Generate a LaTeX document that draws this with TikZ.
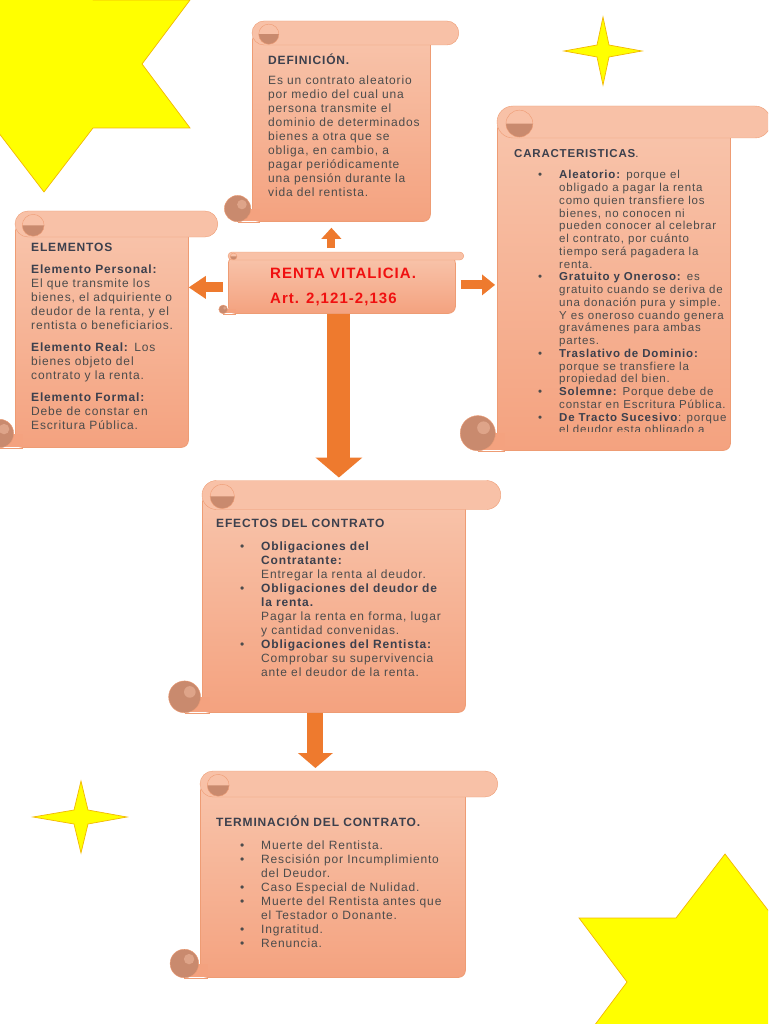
\documentclass[tikz,border=0pt]{standalone}
\usepackage{fontspec}
\setmainfont{Liberation Sans}[LetterSpace=7]
\newfontfamily\redfont{Liberation Sans}[LetterSpace=7]
\usetikzlibrary{arrows.meta,calc,positioning}

\definecolor{bodytop}{HTML}{F8C4AB}
\definecolor{bodybot}{HTML}{F4A27F}
\definecolor{rollc}{HTML}{F8C1A7}
\definecolor{edge}{HTML}{EE9C74}
\definecolor{curlc}{HTML}{C98A6E}
\definecolor{arrowc}{HTML}{EE7A2E}
\definecolor{starfill}{HTML}{FFFF00}
\definecolor{staredge}{HTML}{F2B705}
\definecolor{ink}{HTML}{4C4C4C}
\definecolor{head}{HTML}{3C404D}
\definecolor{redtxt}{HTML}{F01010}

% roll on top, curls at the corners
\newcommand{\scrollbits}[3]{%
  \path (#1.north west) coordinate (nw) (#1.north east) coordinate (ne)
        (#1.south west) coordinate (sw);
  \fill[bodybot] ($(sw)+(-0.6*#2,-0.55*#2)$) rectangle ($(sw)+(8,-0.4)$);
  \draw[edge] ($(sw)+(-0.6*#2,0)$) -- ($(sw)+(8,0)$);
  \filldraw[curlc, draw=edge] ($(sw)+(-0.6*#2,-0.55*#2)$) circle[radius={0.55*#2*1pt}];
  \fill[bodytop!45!curlc] ($(sw)+(-0.42*#2,-0.72*#2)$) circle[radius={0.2*#2*1pt}];
  \filldraw[rollc, draw=edge, rounded corners={0.5*#2*1pt}]
    ($(nw)+(0,-0.5*#2)$) rectangle ($(ne)+(#3,0.5*#2)$);
  \fill[curlc] ($(nw)+(0.7*#2,0.05*#2)$) ++(-0.42*#2,0)
    arc[start angle=180, end angle=360, radius={0.42*#2*1pt}] -- cycle;
  \draw[edge] ($(nw)+(0.7*#2,0.05*#2)$) circle[radius={0.42*#2*1pt}];
}
\newcommand{\tp}{\rule{0pt}{12pt}}
\newcommand{\itm}{\hspace*{24pt}\makebox[21pt][l]{\textbullet}}
\newcommand{\cnt}{\hspace*{45pt}}

\begin{document}
\begin{tikzpicture}[x=1pt, y=-1pt,
  box/.style = {rectangle, rounded corners=7pt, draw=edge, line width=0.8pt,
    top color=bodytop, bottom color=bodybot, inner sep=0pt, anchor=north west},
  txt/.style = {anchor=north west, inner sep=0pt, align=left, text=ink,
    font=\fontsize{12}{14}\selectfont},
  star/.style = {fill=starfill, draw=staredge, line width=0.7pt, line join=miter},
  blk/.style = {draw=arrowc, line cap=butt}
]
\useasboundingbox (0,0) rectangle (768,1024);
\clip (0,0) rectangle (768,1024);

% stars
\draw[star, shift={(44,64)}] (0,-128) -- (49,-64) -- (146,-64) -- (98,0) -- (146,64)
  -- (49,64) -- (0,128) -- (-49,64) -- (-146,64) -- (-98,0) -- (-146,-64) -- (-49,-64) -- cycle;
\draw[star, shift={(725,982)}] (0,-128) -- (49,-64) -- (146,-64) -- (98,0) -- (146,64)
  -- (49,64) -- (0,128) -- (-49,64) -- (-146,64) -- (-98,0) -- (-146,-64) -- (-49,-64) -- cycle;
\draw[star, shift={(603,51)}] (0,-34) -- (6,-6) -- (39,0) -- (6,6) -- (0,34) -- (-6,6)
  -- (-39,0) -- (-6,-6) -- cycle;
\draw[star, shift={(81,817)}] (0,-36) -- (7,-7) -- (46,0) -- (7,7) -- (0,36) -- (-7,7)
  -- (-48,0) -- (-7,-7) -- cycle;

% scrolls
\node[box, minimum width=178pt, minimum height=188pt] (def)  at (252,33)  {};
\scrollbits{def}{24}{28}
\node[box, minimum width=233pt, minimum height=328pt] (car)  at (497,122) {};
\scrollbits{car}{32}{40}
\node[box, minimum width=173pt, minimum height=223pt] (elem) at (15,224)  {};
\scrollbits{elem}{26}{29}
\node[box, minimum width=227pt, minimum height=57pt]  (cen)  at (228,256) {};
\scrollbits{cen}{8}{8}
\node[box, minimum width=263pt, minimum height=217pt] (efe)  at (202,495) {};
\scrollbits{efe}{29}{35}
\node[box, minimum width=265pt, minimum height=193pt] (term) at (200,784) {};
\scrollbits{term}{26}{32}

% texts
\node[txt] (deftxt) at (268,52) {\tp\textcolor{head}{\textbf{DEFINICIÓN.}}\\[6pt]
  Es un contrato aleatorio\\ por medio del cual una\\ persona transmite el\\
  dominio de determinados\\ bienes a otra que se\\ obliga, en cambio, a\\
  pagar periódicamente\\ una pensión durante la\\ vida del rentista.};

\begin{scope}
\clip (car.north west) rectangle ([yshift=19pt]car.south east);
\node[txt, font=\fontsize{11.5}{12.75}\selectfont] (cartxt) at (514,145)
  {\tp\textcolor{head}{\textbf{CARACTERISTICAS}.}\\[9pt]
  \itm\textcolor{head}{\textbf{Aleatorio:}} porque el\\ \cnt obligado a pagar la renta\\
  \cnt como quien transfiere los\\ \cnt bienes, no conocen ni\\
  \cnt pueden conocer al celebrar\\ \cnt el contrato, por cuánto\\
  \cnt tiempo será pagadera la\\ \cnt renta.\\
  \itm\textcolor{head}{\textbf{Gratuito y Oneroso:}} es\\ \cnt gratuito cuando se deriva de\\
  \cnt una donación pura y simple.\\ \cnt Y es oneroso cuando genera\\
  \cnt gravámenes para ambas\\ \cnt partes.\\
  \itm\textcolor{head}{\textbf{Traslativo de Dominio:}}\\ \cnt porque se transfiere la\\
  \cnt propiedad del bien.\\
  \itm\textcolor{head}{\textbf{Solemne:}} Porque debe de\\ \cnt constar en Escritura Pública.\\
  \itm\textcolor{head}{\textbf{De Tracto Sucesivo}}: porque\\ \cnt el deudor esta obligado a};
\end{scope}

\node[txt] (elemtxt) at (31,239) {\tp\textcolor{head}{\textbf{ELEMENTOS}}\\[8pt]
  \textcolor{head}{\textbf{Elemento Personal:}}\\ El que transmite los\\
  bienes, el adquiriente o\\ deudor de la renta, y el\\ rentista o beneficiarios.\\[8pt]
  \textcolor{head}{\textbf{Elemento Real:}} Los\\ bienes objeto del\\ contrato y la renta.\\[8pt]
  \textcolor{head}{\textbf{Elemento Formal:}}\\ Debe de constar en\\ Escritura Pública.};

\node[txt, text=redtxt, font=\redfont\bfseries\fontsize{15}{25}\selectfont] (centxt) at (270,263)
  {\rule{0pt}{15pt}RENTA VITALICIA.\\ Art. 2,121-2,136};

\node[txt] (efetxt) at (216,515) {\tp\textcolor{head}{\textbf{EFECTOS DEL CONTRATO}}\\[9pt]
  \itm\textcolor{head}{\textbf{Obligaciones del}}\\ \cnt\textcolor{head}{\textbf{Contratante:}}\\
  \cnt Entregar la renta al deudor.\\
  \itm\textcolor{head}{\textbf{Obligaciones del deudor de}}\\ \cnt\textcolor{head}{\textbf{la renta.}}\\
  \cnt Pagar la renta en forma, lugar\\ \cnt y cantidad convenidas.\\
  \itm\textcolor{head}{\textbf{Obligaciones del Rentista:}}\\ \cnt Comprobar su supervivencia\\
  \cnt ante el deudor de la renta.};

\node[txt] (termtxt) at (216,814) {\tp\textcolor{head}{\textbf{TERMINACIÓN DEL CONTRATO.}}\\[9pt]
  \itm Muerte del Rentista.\\ \itm Rescisión por Incumplimiento\\ \cnt del Deudor.\\
  \itm Caso Especial de Nulidad.\\ \itm Muerte del Rentista antes que\\
  \cnt el Testador o Donante.\\ \itm Ingratitud.\\ \itm Renuncia.};

% arrows
\draw[blk, line width=8pt, -{Triangle[length=11pt, width=20pt, line width=0pt]},
  shorten <=8pt, shorten >=6pt] ([xshift=-10.5pt]cen.north) -- ([xshift=-10.5pt]cen.north |- def.south);
\draw[blk, line width=10pt, -{Triangle[length=17pt, width=23pt, line width=0pt]},
  shorten <=5pt] ([yshift=-2.5pt]cen.west) -- ([yshift=-2.5pt]cen.west -| elem.east);
\draw[blk, line width=9pt, -{Triangle[length=13pt, width=21pt, line width=0pt]},
  shorten <=5pt, shorten >=2pt] (cen.east) -- (cen.east -| car.west);
\draw[blk, line width=23pt, -{Triangle[length=20pt, width=47pt, line width=0pt]},
  shorten >=17.5pt] ([xshift=-3pt]cen.south) -- ([xshift=-3pt]cen.south |- efe.north);
\draw[blk, line width=16pt, -{Triangle[length=15pt, width=35pt, line width=0pt]},
  shorten >=16pt] ([xshift=-18.5pt]efe.south) -- ([xshift=-18.5pt]efe.south |- term.north);
\end{tikzpicture}
\end{document}
